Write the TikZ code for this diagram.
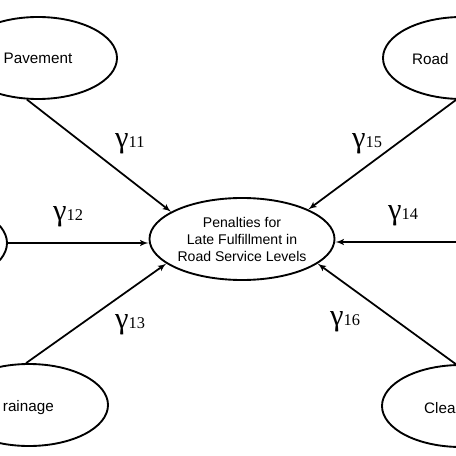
\documentclass[tikz,border=0pt]{standalone}
\usepackage{fontspec}
\setmainfont{Liberation Sans}
\newfontfamily\grkfont{Liberation Serif}
\usepackage{tikz}
\usetikzlibrary{arrows,shapes.geometric}
\newcommand{\gam}[1]{{\grkfont\fontsize{26}{26}\selectfont γ}{\grkfont\fontsize{14}{14}\selectfont #1}}

\begin{document}
\begin{tikzpicture}[x=0.03cm,y=-0.03cm]
\tikzset{vertex/.style = {shape=ellipse,draw,line width=1.6pt,inner sep=0pt,
minimum width=4.74cm,minimum height=2.46cm,font=\fontsize{13}{15}\selectfont}}
\tikzset{edge/.style = {->,> = latex',line width=1.5pt}}
\tikzset{lbl/.style = {inner sep=0pt,font=\fontsize{13}{15}\selectfont}}
\tikzset{coef/.style = {inner sep=0pt,anchor=base west}}
\useasboundingbox (0,0) rectangle (456,456);
\clip (0,0) rectangle (456,456);
% vertices
\node[vertex,minimum width=5.55cm,align=center,font=\fontsize{12}{14.5}\selectfont] (pen) at (242,239)
  {Penalties for\\Late Fulfillment in\\Road Service Levels};
\node[vertex] (pav) at (38,58) {Pavement};
\node[vertex] (road) at (462,58) {};
\node[vertex] (lft) at (-72,243) {};
\node[vertex] (rgt) at (540,242) {};
\node[vertex] (drn) at (29,405) {};
\node[vertex] (cln) at (461,406) {};
\node[lbl,anchor=west] (roadtxt) at (412,59) {Road};
\node[lbl,anchor=east] (drntxt) at (54,408) {rainage};
\node[lbl,anchor=west] (clntxt) at (424,408) {Clea};

%edges
\draw[edge] (pav.255) -- (pen.159);
\draw[edge] (lft.east) -- (lft.east -| pen.west);
\draw[edge] (drn.94) -- (pen.198);
\draw[edge] (rgt.west) -- (rgt.west -| pen.east);
\draw[edge] (road.262) -- (pen.24);
\draw[edge] (cln.97) -- (pen.342);

%coefficients
\node[coef] (g11) at (115,148) {\gam{11}};
\node[coef] (g12) at (53,220) {\gam{12}};
\node[coef] (g13) at (115,328) {\gam{13}};
\node[coef] (g14) at (388,219) {\gam{14}};
\node[coef] (g15) at (352,148) {\gam{15}};
\node[coef] (g16) at (330,325) {\gam{16}};
\end{tikzpicture}
\end{document}
